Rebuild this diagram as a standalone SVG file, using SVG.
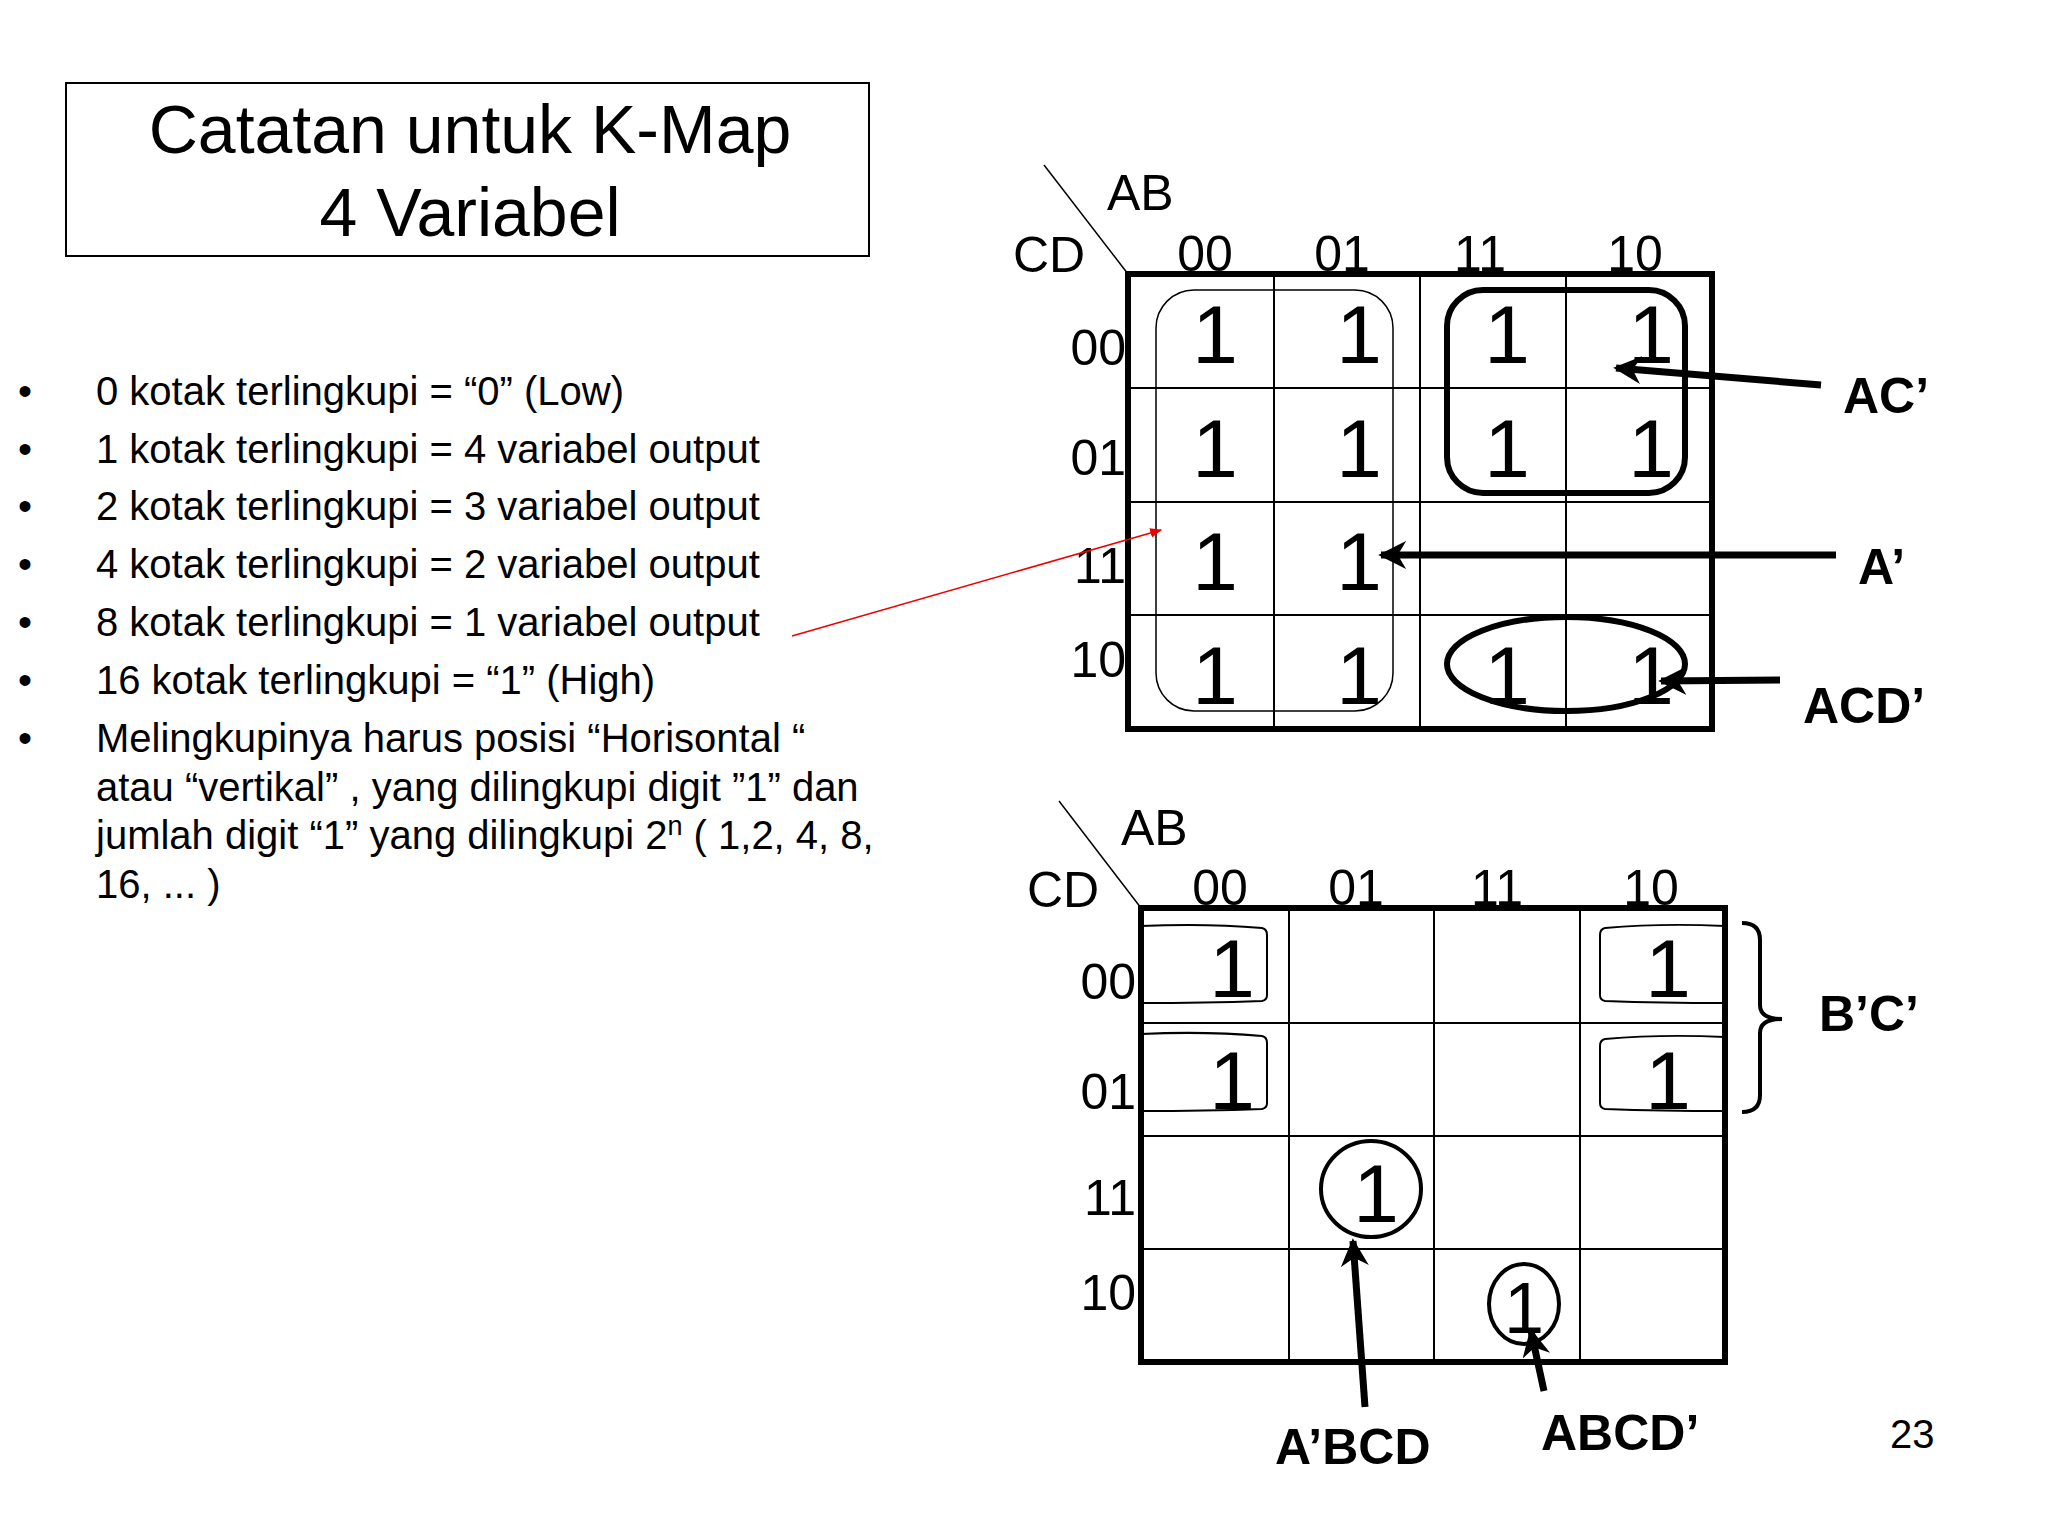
<svg xmlns="http://www.w3.org/2000/svg" width="2048" height="1534" viewBox="0 0 2048 1534">
<defs>
<marker id="ah" viewBox="0 0 10 10" refX="9" refY="5" markerWidth="4" markerHeight="4" orient="auto" markerUnits="strokeWidth"><path d="M0,0 L10,5 L0,10 L3,5 z" fill="#000"/></marker>
<marker id="ar" viewBox="0 0 10 10" refX="9" refY="5" markerWidth="8" markerHeight="8" orient="auto" markerUnits="strokeWidth"><path d="M0,1 L10,5 L0,9 z" fill="#e00"/></marker>
</defs>
<style>
text{font-family:"Liberation Sans",Arial,sans-serif;fill:#000}
.t{font-size:68px}
.b{font-size:40px}
.h{font-size:50px}
.one{font-size:82px;text-anchor:middle}
.lb{font-size:50px;font-weight:bold}
.g{fill:none;stroke:#000;stroke-width:2}
.o{fill:none;stroke:#000;stroke-width:6}
.ar{stroke:#000;stroke-width:7;fill:none;marker-end:url(#ah)}
</style>
<rect width="2048" height="1534" fill="#fff"/>
<g id="title">
<rect x="66" y="83" width="803" height="173" fill="none" stroke="#000" stroke-width="2"/>
<text class="t" x="470" y="153" text-anchor="middle">Catatan untuk K-Map</text>
<text class="t" x="470" y="236" text-anchor="middle">4 Variabel</text>
</g>
<g id="bullets" class="b">
<text x="18" y="405">•</text><text x="96" y="405">0 kotak terlingkupi = “0” (Low)</text>
<text x="18" y="463">•</text><text x="96" y="463">1 kotak terlingkupi = 4 variabel output</text>
<text x="18" y="520">•</text><text x="96" y="520">2 kotak terlingkupi = 3 variabel output</text>
<text x="18" y="578">•</text><text x="96" y="578">4 kotak terlingkupi = 2 variabel output</text>
<text x="18" y="636">•</text><text x="96" y="636">8 kotak terlingkupi = 1 variabel output</text>
<text x="18" y="694">•</text><text x="96" y="694">16 kotak terlingkupi = “1” (High)</text>
<text x="18" y="752">•</text><text x="96" y="752">Melingkupinya harus posisi “Horisontal “</text>
<text x="96" y="801">atau “vertikal” , yang dilingkupi digit ”1” dan</text>
<text x="96" y="849">jumlah digit “1” yang dilingkupi 2<tspan dy="-14" font-size="27">n</tspan><tspan dy="14"> ( 1,2, 4, 8,</tspan></text>
<text x="96" y="898">16, ... )</text>
</g>
<g id="map1">
<line x1="1044" y1="165" x2="1128" y2="274" stroke="#000" stroke-width="1.5"/>
<text class="h" x="1107" y="210">AB</text>
<text class="h" x="1013" y="272">CD</text>
<g class="h" text-anchor="middle"><text x="1205" y="271">00</text><text x="1342" y="271">01</text><text x="1480" y="271">11</text><text x="1635" y="271">10</text></g>
<g class="h" text-anchor="end"><text x="1126" y="365">00</text><text x="1126" y="475">01</text><text x="1126" y="583">11</text><text x="1126" y="677">10</text></g>
<rect x="1128" y="274" width="584" height="455" fill="none" stroke="#000" stroke-width="6"/>
<path class="g" d="M1274,274V729M1420,274V729M1566,274V729M1128,388H1712M1128,502H1712M1128,615H1712"/>
<g class="one">
<text x="1215" y="363">1</text><text x="1359" y="363">1</text><text x="1507" y="363">1</text><text x="1651" y="363">1</text>
<text x="1215" y="477">1</text><text x="1359" y="477">1</text><text x="1507" y="477">1</text><text x="1651" y="477">1</text>
<text x="1215" y="590">1</text><text x="1359" y="590">1</text>
<text x="1215" y="704">1</text><text x="1359" y="704">1</text><text x="1507" y="704">1</text><text x="1651" y="704">1</text>
</g>
<rect x="1156" y="290" width="237" height="421" rx="38" fill="none" stroke="#000" stroke-width="1.5"/>
<rect x="1447" y="290" width="238" height="203" rx="36" class="o"/>
<ellipse cx="1566" cy="664" rx="119" ry="47" class="o"/>
</g>
<g id="map2">
<line x1="1059" y1="801" x2="1141" y2="908" stroke="#000" stroke-width="1.5"/>
<text class="h" x="1121" y="845">AB</text>
<text class="h" x="1027" y="907">CD</text>
<g class="h" text-anchor="middle"><text x="1220" y="905">00</text><text x="1356" y="905">01</text><text x="1497" y="905">11</text><text x="1651" y="905">10</text></g>
<g class="h" text-anchor="end"><text x="1136" y="999">00</text><text x="1136" y="1109">01</text><text x="1136" y="1215">11</text><text x="1136" y="1310">10</text></g>
<rect x="1141" y="908" width="584" height="454" fill="none" stroke="#000" stroke-width="6"/>
<path class="g" d="M1289,908V1362M1434,908V1362M1580,908V1362M1141,1023H1725M1141,1136H1725M1141,1249H1725"/>
<g class="one">
<text x="1232" y="997">1</text><text x="1668" y="997">1</text>
<text x="1232" y="1109">1</text><text x="1668" y="1109">1</text>
<text x="1376" y="1222">1</text><text x="1524" y="1333" font-size="72">1</text>
</g>
<g fill="none" stroke="#000" stroke-width="2">
<path d="M1141,926 Q1205,923 1262,928 Q1267,929 1267,935 V995 Q1267,1000 1262,1001 Q1205,1003 1141,1003"/>
<path d="M1141,1034 Q1205,1031 1262,1036 Q1267,1037 1267,1043 V1103 Q1267,1108 1262,1109 Q1205,1111 1141,1111"/>
<path d="M1725,926 Q1661,923 1605,928 Q1600,929 1600,935 V995 Q1600,1000 1605,1001 Q1661,1003 1725,1003"/>
<path d="M1725,1037 Q1661,1034 1605,1039 Q1600,1040 1600,1046 V1103 Q1600,1108 1605,1109 Q1661,1111 1725,1111"/>
</g>
<ellipse cx="1371" cy="1189" rx="50" ry="48" fill="none" stroke="#000" stroke-width="4"/>
<ellipse cx="1524" cy="1304" rx="35" ry="40" fill="none" stroke="#000" stroke-width="4"/>
<path d="M1742,923 Q1760,923 1760,940 V1005 Q1760,1019 1782,1019 Q1760,1019 1760,1033 V1095 Q1760,1112 1742,1112" fill="none" stroke="#000" stroke-width="4"/>
</g>
<g id="connectors">
<line x1="792" y1="636" x2="1161" y2="530" stroke="#e00" stroke-width="1.5" marker-end="url(#ar)"/>
<line class="ar" x1="1821" y1="385" x2="1616" y2="368"/>
<line class="ar" x1="1836" y1="555" x2="1381" y2="555"/>
<line class="ar" x1="1780" y1="680" x2="1661" y2="681"/>
<line class="ar" x1="1365" y1="1407" x2="1353" y2="1241"/>
<line class="ar" x1="1544" y1="1391" x2="1531" y2="1331"/>
</g>
<g id="labels" class="lb">
<text x="1843" y="413">AC’</text>
<text x="1858" y="584">A’</text>
<text x="1803" y="723">ACD’</text>
<text x="1819" y="1031">B’C’</text>
<text x="1275" y="1464">A’BCD</text>
<text x="1541" y="1450">ABCD’</text>
</g>
<text x="1890" y="1448" font-size="40">23</text>
</svg>
